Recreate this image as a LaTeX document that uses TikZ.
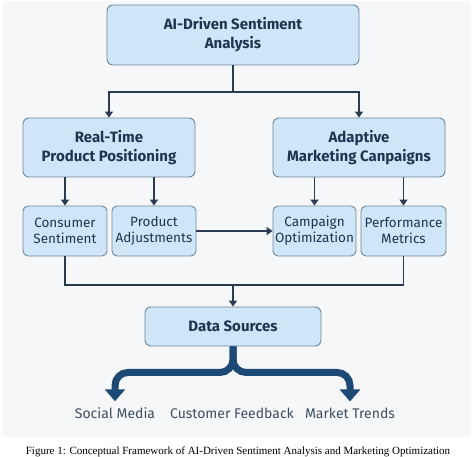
\documentclass[tikz,border=0pt]{standalone}
\usepackage{fontspec}
\setmainfont{Fira Sans}
\newfontfamily\capfont{Liberation Serif}
\usepackage{xcolor}
\usepackage{tikz}
\usetikzlibrary{calc,arrows.meta}
\definecolor{bg}{HTML}{F6F7F9}
\definecolor{boxfill}{HTML}{CFE6F8}
\definecolor{boxline}{HTML}{6F8699}
\definecolor{ink}{HTML}{1E3550}
\definecolor{wire}{HTML}{2B3C52}
\definecolor{navy}{HTML}{1D4A74}
\definecolor{muted}{HTML}{3E4D60}
\tikzset{
  box/.style={draw=boxline, fill=boxfill, line width=0.9pt, rounded corners=6pt, align=center, text=ink, inner sep=0pt, font=\bfseries\fontsize{15}{19}\selectfont},
  sub/.style={box, rounded corners=5pt, font=\fontsize{13.5}{16}\selectfont},
  link/.style={draw=wire, line width=1.3pt},
  wire/.style={link, -{Triangle[width=8pt,length=6pt]}},
  fat/.style={draw=navy, line width=7pt, rounded corners=13pt, -{Triangle[width=20pt,length=12pt]}},
  lab/.style={text=muted, inner sep=2pt, font=\fontsize{14}{16}\selectfont},
  captext/.style={text=black, inner sep=0pt, font=\capfont\fontsize{11}{12}\selectfont},
}

\begin{document}
\begin{tikzpicture}[x=1pt,y=-1pt]
  \useasboundingbox (0,0) rectangle (474,457);
  \fill[bg, rounded corners=4pt] (2,1) rectangle (471,437);
  % top level
  \node[box, minimum width=252pt, minimum height=60pt] (top) at (233,35) {AI-Driven Sentiment\\Analysis};
  \node[box, minimum width=172pt, minimum height=59pt] (rtp) at (109,147.5) {Real-Time\\Product Positioning};
  \node[box, minimum width=172pt, minimum height=59pt] (amc) at (359,147.5) {Adaptive\\Marketing Canpaigns};
  % sub boxes
  \node[sub, minimum width=84pt, minimum height=50pt] (cs) at (65,231) {Consumer\\Sentiment};
  \node[sub, minimum width=84pt, minimum height=50pt] (pa) at (154,231) {Product\\Adjustments};
  \node[sub, minimum width=83pt, minimum height=50pt] (co) at (314.5,231) {Campaign\\Optimization};
  \node[sub, minimum width=85pt, minimum height=50pt] (pm) at (403.5,231) {Performance\\Metrics};
  \node[box, minimum width=176pt, minimum height=39pt] (ds) at (233,326.5) {Data Sources};
  % sources
  \node[lab] (sm) at (115,413) {Social Media};
  \node[lab] (cf) at (232,413) {Customer Feedback};
  \node[lab] (mt) at (350,413) {Market Trends};
  \node[captext, anchor=south] (caption) at (238,457) {Figure 1: Conceptual Framework of AI-Driven Sentiment Analysis and Marketing Optimization};

  \coordinate (split) at (233,92);
  \coordinate (join) at (233,285);
  \draw[link] (top.south) -- (split);
  \draw[wire] (split) -| (rtp.north);
  \draw[wire] (split) -| (amc.north);
  \foreach \a/\b in {rtp/cs,rtp/pa,amc/co,amc/pm}{
    \draw[wire] (\a.south -| \b.north) -- (\b.north);
  }
  \draw[wire] (pa.east) -- (co.west);
  \draw[link] (cs.south) |- (join) -| (pm.south);
  \draw[wire] (join) -- (ds.north);
  \draw[fat, shorten >=4pt] (ds.south) -- ++(0,26) -| (sm.north);
  \draw[fat, shorten >=4pt] (ds.south) -- ++(0,26) -| (mt.north);
\end{tikzpicture}
\end{document}
